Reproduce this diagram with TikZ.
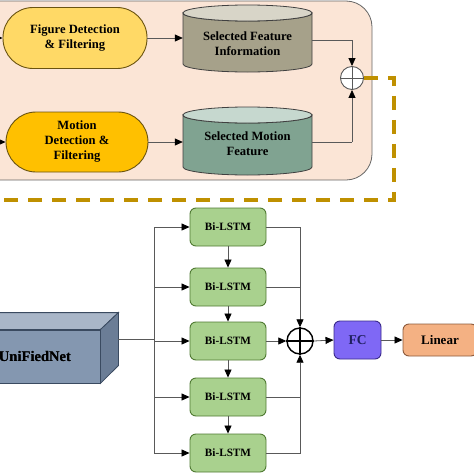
\documentclass[tikz,border=0pt]{standalone}
\usepackage{fontspec}
\setmainfont{Liberation Serif}
\usetikzlibrary{arrows.meta,calc}
\definecolor{panel}{HTML}{FBE5D6}
\definecolor{gold}{HTML}{BF9000}
\definecolor{figfill}{HTML}{FFD966}
\definecolor{motfill}{HTML}{FFC000}
\definecolor{stadborder}{HTML}{6B5410}
\definecolor{cylAbody}{HTML}{A6A18A}
\definecolor{cylAtop}{HTML}{D8D5C8}
\definecolor{cylBbody}{HTML}{80A391}
\definecolor{cylBtop}{HTML}{C6D8CF}
\definecolor{lstmfill}{HTML}{A9D18E}
\definecolor{lstmborder}{HTML}{4F7A32}
\definecolor{fcfill}{HTML}{7F68F5}
\definecolor{fcborder}{HTML}{3A2A8A}
\definecolor{fctext}{HTML}{1F1F5F}
\definecolor{linfill}{HTML}{F4B183}
\definecolor{linborder}{HTML}{8C5A3C}
\definecolor{ufront}{HTML}{8497B0}
\definecolor{utop}{HTML}{A9B6C8}
\definecolor{uside}{HTML}{6B7D96}
\definecolor{uborder}{HTML}{3A4A60}
\definecolor{wire}{HTML}{595959}
\tikzset{
  lbl/.style={font=\bfseries\fontsize{12.6}{15}\selectfont, align=center, text=black},
  stadium/.style={lbl, draw=stadborder, line width=0.9pt, rounded corners=30pt, inner sep=0pt},
  cylnode/.style={lbl, minimum width=129pt, minimum height=67pt, inner sep=0pt},
  lstm/.style={draw=lstmborder, fill=lstmfill, line width=0.9pt, rounded corners=6pt,
     minimum width=76pt, minimum height=38pt, inner sep=0pt,
     font=\bfseries\fontsize{11.2}{13}\selectfont},
  wirestyle/.style={draw=wire, line width=0.8pt},
  arr/.style={wirestyle, -{Triangle[length=8pt,width=7pt,fill=black,color=black]}},
  dashgold/.style={draw=gold, line width=3.3pt, dash pattern=on 14pt off 10pt},
}
\begin{document}
\begin{tikzpicture}[x=1pt,y=-1pt]
\useasboundingbox (0,0) rectangle (474,474);
% top panel
\draw[draw=gray!80!black, fill=panel, line width=0.8pt, rounded corners=26pt] (-40,1) rectangle (372,180);
% stadiums
\node[stadium, fill=figfill, minimum width=144pt, minimum height=61pt] (fig) at (75,38) {Figure Detection\\\& Filtering};
\node[stadium, fill=motfill, minimum width=142pt, minimum height=60pt] (mot) at (77,142) {Motion\\Detection \&\\Filtering};
\coordinate (fin) at (-10,38);
\coordinate (min) at (-10,142);
\draw[arr] (fin) -- (fig.west);
\draw[arr] (min) -- (mot.west);
% cylinder A
\path[fill=cylAbody, draw=black!75, line width=0.8pt] (183,13) -- (183,64) arc[start angle=180,end angle=0,x radius=64.5,y radius=8] -- (312,13) arc[start angle=0,end angle=180,x radius=64.5,y radius=8] -- cycle;
\path[fill=cylAtop, draw=black!75, line width=0.8pt] (247.5,13) ellipse[x radius=64.5,y radius=8];
\node[cylnode] (cyla) at (247.5,44) {Selected Feature\\Information};
% cylinder B
\path[fill=cylBbody, draw=black!75, line width=0.8pt] (183,115) -- (183,167) arc[start angle=180,end angle=0,x radius=64.5,y radius=8] -- (312,115) arc[start angle=0,end angle=180,x radius=64.5,y radius=8] -- cycle;
\path[fill=cylBtop, draw=black!75, line width=0.8pt] (247.5,115) ellipse[x radius=64.5,y radius=8];
\node[cylnode] (cylb) at (247.5,144) {Selected Motion\\Feature};
\draw[arr] (fig.east) -- (fig.east -| cyla.west);
\draw[arr] (mot.east) -- (mot.east -| cylb.west);
% top oplus
\node[circle, draw=wire, fill=white, line width=0.9pt, minimum size=23pt, inner sep=0pt] (opa) at (352,78) {};
\draw[wire, line width=0.8pt] (opa.north) -- (opa.south) (opa.west) -- (opa.east);
\coordinate (ca) at (352,40);
\coordinate (cb) at (352,142);
\draw[wirestyle] (312,40) -- (ca);
\draw[arr] (ca) -- (opa.north);
\draw[wirestyle] (312,142) -- (cb);
\draw[arr] (cb) -- (opa.south);
% dashed gold
\coordinate (g1) at (394,78);
\coordinate (g2) at (394,200);
\coordinate (g3) at (-10,200);
\draw[dashgold] (opa.east) -- (g1) -- (g2) -- (g3);
% UniFiedNet 3D box
\node[draw=uborder, fill=ufront, line width=0.8pt, minimum width=130pt, minimum height=53pt, inner sep=0pt,
  font=\bfseries\fontsize{14.6}{17}\selectfont] (u) at (35,356.5) {UniFiedNet};
\path[fill=utop, draw=uborder, line width=0.8pt] (u.north west) -- ++(18,-17) -- ($(u.north east)+(18,-17)$) -- (u.north east) -- cycle;
\path[fill=uside, draw=uborder, line width=0.8pt] (u.north east) -- ++(18,-17) -- ++(0,53) -- (u.south east) -- cycle;
\node[font=\bfseries\fontsize{14.6}{17}\selectfont] at (35,356.5) {UniFiedNet};
\coordinate (us) at (118,339);
% Bi-LSTMs
\node[lstm] (b1) at (228,227) {Bi-LSTM};
\node[lstm] (b2) at (228,287) {Bi-LSTM};
\node[lstm] (b3) at (228,341) {Bi-LSTM};
\node[lstm] (b4) at (228,397) {Bi-LSTM};
\node[lstm] (b5) at (228,453) {Bi-LSTM};
\draw[arr] (b1.south) -- (b2.north);
\draw[arr] (b2.south) -- (b3.north);
\draw[arr] (b3.south) -- (b4.north);
\draw[arr] (b4.south) -- (b5.north);
% left bus
\coordinate (l1) at (154,227);
\coordinate (l2) at (154,287);
\coordinate (l3) at (154,341);
\coordinate (l4) at (154,397);
\coordinate (l5) at (154,453);
\draw[wirestyle] (l1) -- (l5);
\draw[wirestyle] (us) -- (us -| l3);
\foreach \i in {1,...,5} { \draw[arr] (l\i) -- (b\i.west); }
% oplus bottom
\node[circle, draw=black, fill=white, line width=1.4pt, minimum size=26pt, inner sep=0pt] (op) at (300,341) {};
\draw[black, line width=1.4pt] (op.north) -- (op.south) (op.west) -- (op.east);
\coordinate (r1) at (300,227);
\coordinate (r2) at (300,287);
\coordinate (r4) at (300,397);
\coordinate (r5) at (300,453);
\draw[wirestyle] (b1.east) -- (r1) -- (r2);
\draw[wirestyle] (b2.east) -- (r2);
\draw[arr] (r2) -- (op.north);
\draw[wirestyle] (b5.east) -- (r5) -- (r4);
\draw[wirestyle] (b4.east) -- (r4);
\draw[arr] (r4) -- (op.south);
\draw[arr] (b3.east) -- (op.west);
% FC and Linear
\node[draw=fcborder, fill=fcfill, line width=0.9pt, rounded corners=6pt, minimum width=47pt, minimum height=38pt, inner sep=0pt,
  font=\bfseries\fontsize{13.5}{16}\selectfont, text=fctext] (fc) at (357.5,340) {FC};
\node[draw=linborder, fill=linfill, line width=0.9pt, rounded corners=6pt, minimum width=74pt, minimum height=32pt, inner sep=0pt,
  font=\bfseries\fontsize{13}{16}\selectfont] (lin) at (440,340) {Linear};
\draw[arr] (op.east) -- (fc.west);
\draw[arr] (fc.east) -- (lin.west);
\end{tikzpicture}
\end{document}
